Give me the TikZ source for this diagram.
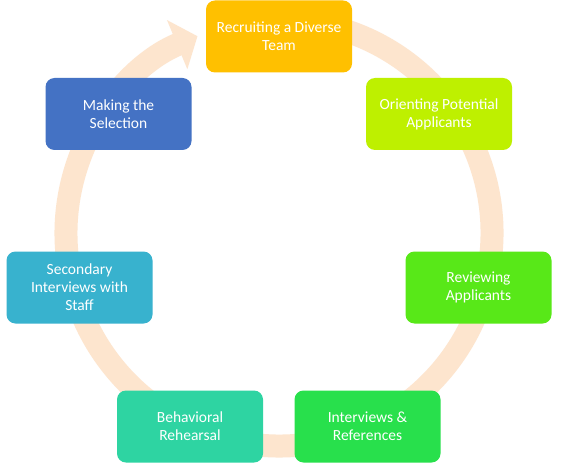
\documentclass[tikz,border=0pt]{standalone}
\usepackage{fontspec}
\setmainfont{Carlito}
\usetikzlibrary{arrows.meta}
\definecolor{cRec}{RGB}{255,192,0}
\definecolor{cOri}{RGB}{190,240,0}
\definecolor{cRev}{RGB}{88,232,24}
\definecolor{cInt}{RGB}{40,224,76}
\definecolor{cBeh}{RGB}{46,212,162}
\definecolor{cSec}{RGB}{56,178,206}
\definecolor{cMak}{RGB}{68,114,196}
\definecolor{ringc}{RGB}{253,229,206}
\tikzset{
  stepbox/.style={rounded corners=9pt, minimum width=146pt, minimum height=72pt,
    align=center, text=white, font=\fontsize{15.5}{18}\selectfont, inner sep=2pt},
}
\begin{document}
\begin{tikzpicture}[x=1pt,y=1pt]
\useasboundingbox (0,0) rectangle (569,464);
\fill[white] (0,0) rectangle (569,464);
% ring with arrow
\draw[ringc, line width=23pt, -{Triangle[length=22pt,width=52pt]}]
  ({279+213*cos(80)},{231+213*sin(80)}) arc[start angle=80, end angle=-247.5, radius=213];
% boxes
\node[stepbox, fill=cRec] (rec) at (279,427.5) {Recruiting a Diverse\\Team};
\node[stepbox, fill=cOri] (ori) at (439,350) {Orienting Potential\\Applicants};
\node[stepbox, fill=cRev] (rev) at (478.5,176.5) {Reviewing\\Applicants};
\node[stepbox, fill=cInt] (int) at (367.5,37.5) {Interviews \&\\References};
\node[stepbox, fill=cBeh] (beh) at (190,37.5) {Behavioral\\Rehearsal};
\node[stepbox, fill=cSec] (sec) at (79.5,176.5) {Secondary\\Interviews with\\Staff};
\node[stepbox, fill=cMak] (mak) at (118.5,350) {Making the\\Selection};
\end{tikzpicture}
\end{document}
